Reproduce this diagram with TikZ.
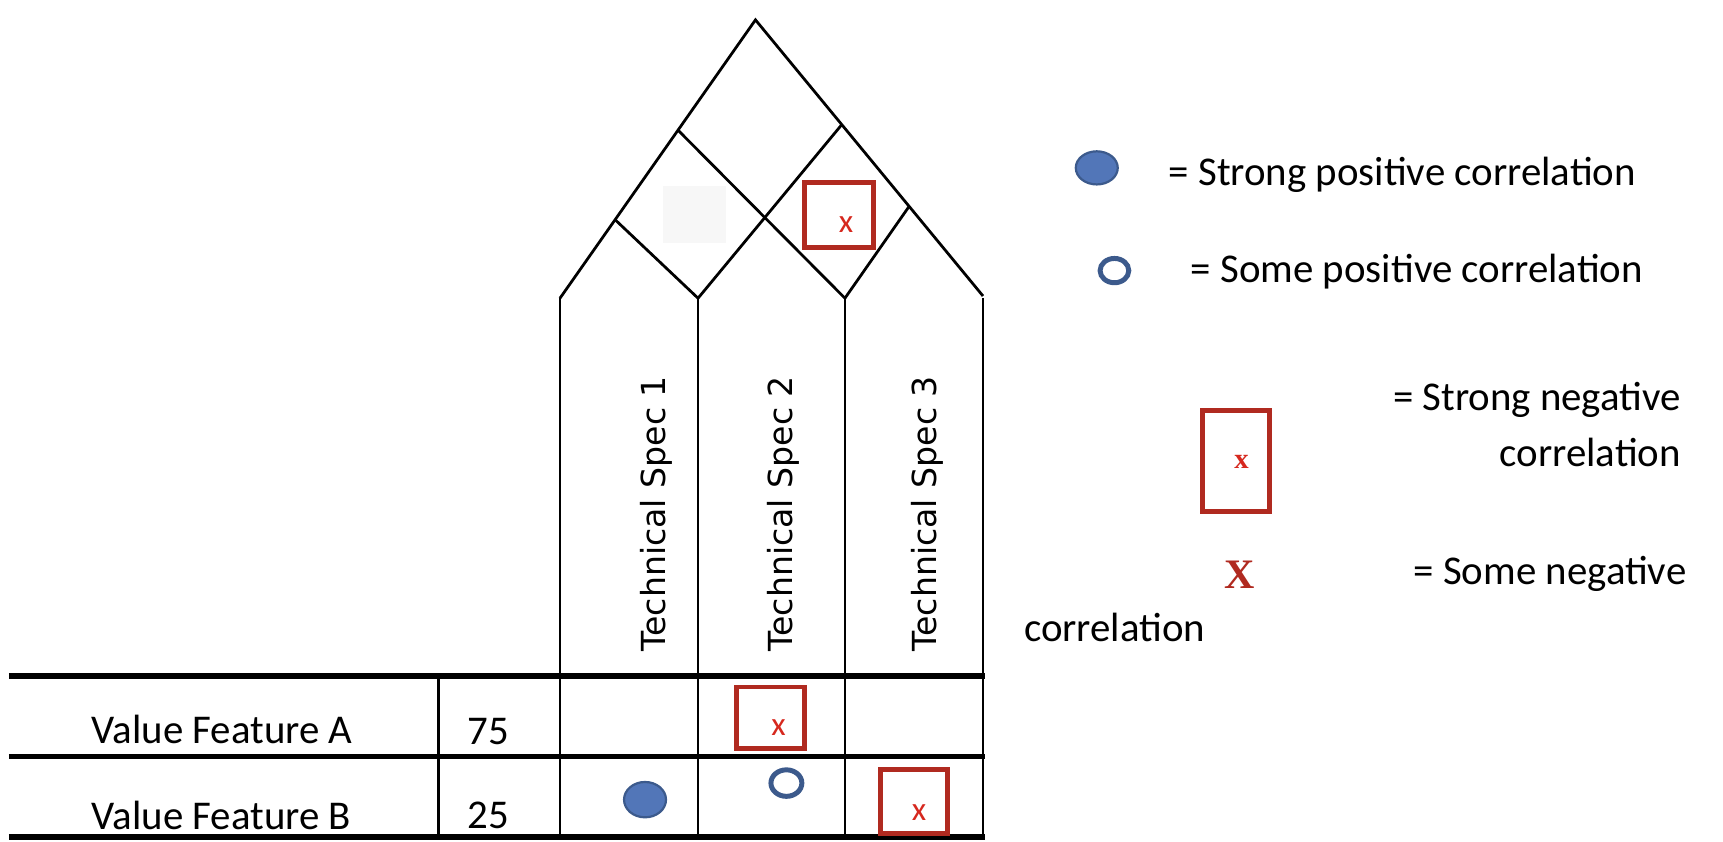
\documentclass[tikz,border=0pt]{standalone}
\usepackage{fontspec}
\setmainfont{Carlito}
\newfontfamily\specfont{DejaVu Sans}
\newfontfamily\serifx{Liberation Serif}
\begin{document}
\begin{tikzpicture}[x=1pt,y=-1pt,
  thin line/.style={line width=2.5pt,black},
  thick line/.style={line width=5pt,black},
  redbox/.style={draw=rb,line width=4.5pt},
  bluefill/.style={fill=bl,draw=bd,line width=2pt},
  blueopen/.style={draw=bd,line width=4.5pt},
  lbl/.style={font=\fontsize{37}{40}\selectfont,inner sep=0pt},
  spec/.style={font=\specfont\fontsize{30}{32}\selectfont,rotate=90,inner sep=0pt},
  redx/.style={text=rx,font=\fontsize{30}{32}\selectfont,inner sep=0pt}]
\definecolor{rb}{RGB}{176,42,32}
\definecolor{rx}{RGB}{214,40,30}
\definecolor{bl}{RGB}{82,118,184}
\definecolor{bd}{RGB}{60,90,140}
\useasboundingbox (0,0) rectangle (1560,762);
% roof
\coordinate (apex) at (684,18);
\coordinate (c1) at (507,270); \coordinate (c2) at (632,270);
\coordinate (c3) at (765,270); \coordinate (c4) at (890,268);
\coordinate (l1) at (614,118); \coordinate (l2) at (557,199);
\coordinate (r1) at (762,113); \coordinate (r2) at (823,187);
\fill[gray!6] (600,168) rectangle (657,220);
\draw[thin line] (c1) -- (apex) -- (c4);
\draw[thin line] (l1) -- (c3);
\draw[thin line] (l2) -- (c2);
\draw[thin line] (c2) -- (r1);
\draw[thin line] (c3) -- (r2);
% columns
\foreach \x/\n in {507/a,632/b,765/c,890/d}{
  \coordinate (t\n) at (\x,270); \coordinate (b\n) at (\x,758);
  \draw[thin line] (t\n) -- (b\n);}
\coordinate (mt) at (397,612); \coordinate (mb) at (397,758);
\draw[thin line] (mt) -- (mb);
\foreach \y/\n in {612/1,685/2,758/3}{
  \coordinate (hl\n) at (8,\y); \coordinate (hr\n) at (892,\y);
  \draw[thick line] (hl\n) -- (hr\n);}
% spec labels
\node[spec] (s1) at (594,465) {Technical Spec 1};
\node[spec] (s2) at (709,465) {Technical Spec 2};
\node[spec] (s3) at (840,465) {Technical Spec 3};
% row labels
\node[lbl,anchor=west] (va) at (83,660) {Value Feature A};
\node[lbl,anchor=west] (n75) at (423,662) {75};
\node[lbl,anchor=west] (vb) at (83,738) {Value Feature B};
\node[lbl,anchor=west] (n25) at (423,738) {25};
% marks
\draw[redbox] (728,165) rectangle (791,224);
\node[redx] (x0) at (766,203) {x};
\draw[redbox] (667,622) rectangle (728,678);
\node[redx] (x1) at (705,659) {x};
\draw[redbox] (797,697) rectangle (858,755);
\node[redx] (x2) at (832,736) {x};
\draw[bluefill] (584,724) ellipse (19 and 16);
\draw[blueopen] (712,709) ellipse (14 and 12);
% legend
\draw[bluefill] (993,152) ellipse (19 and 15);
\node[lbl,anchor=west] (g1) at (1058,158) {= Strong positive correlation};
\draw[blueopen] (1009,245) ellipse (13 and 11);
\node[lbl,anchor=west] (g2) at (1078,246) {= Some positive correlation};
\draw[redbox] (1089,372) rectangle (1149,463);
\node[text=rx,font=\serifx\bfseries\fontsize{26}{28}\selectfont,inner sep=0pt] (x3) at (1124,418) {x};
\node[lbl,anchor=east] (g3) at (1522,362) {= Strong negative};
\node[lbl,anchor=east] (g3b) at (1522,410) {correlation};
\node[text=rb,font=\serifx\bfseries\fontsize{38}{40}\selectfont,inner sep=0pt] (x4) at (1122,520) {X};
\node[lbl,anchor=east] (g4) at (1527,520) {= Some negative};
\node[lbl,anchor=west] (g4b) at (927,568) {correlation};
\end{tikzpicture}
\end{document}
